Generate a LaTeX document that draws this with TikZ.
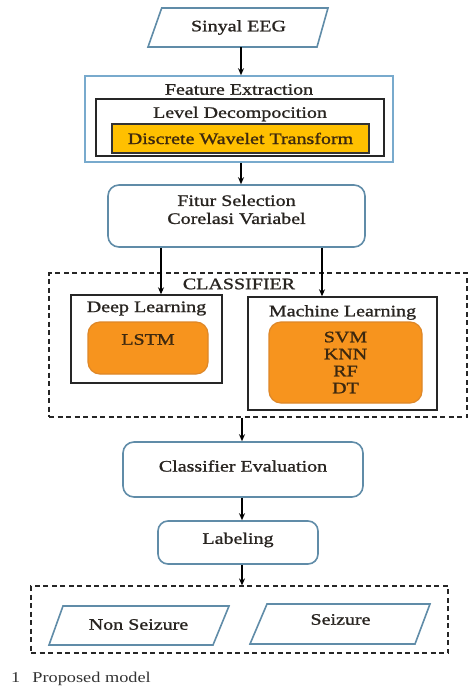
\documentclass[tikz,border=0pt]{standalone}
\usepackage{fontspec}
\setmainfont{Liberation Serif}[FakeStretch=1.25, FakeBold=1.2]
\newfontfamily\capfont{Liberation Serif}[FakeStretch=1.22]
\usetikzlibrary{arrows.meta}
\definecolor{bluebd}{RGB}{96,140,168}
\definecolor{bluebdl}{RGB}{120,170,205}
\definecolor{dwtfill}{RGB}{255,192,0}
\definecolor{orfill}{RGB}{247,148,30}
\definecolor{orbd}{RGB}{222,135,40}
\definecolor{txt}{RGB}{40,36,32}
\definecolor{brtxt}{RGB}{60,40,15}
\tikzset{
  every node/.style={font=\fontsize{16}{17}\selectfont, text=txt, inner sep=0pt},
  bluebox/.style={draw=bluebd, line width=1.6pt, fill=white},
  roundbox/.style={bluebox, rounded corners=11pt},
  blackbox/.style={draw=black!85, line width=1.4pt, fill=white},
  dashbox/.style={draw=black!85, line width=1.2pt, dashed, dash pattern=on 5pt off 3.5pt},
  orbox/.style={draw=orbd, line width=1.2pt, fill=orfill, rounded corners=12pt},
  arr/.style={draw=black, line width=1.2pt, -{Stealth[length=7pt,width=6pt]}},
}
\begin{document}
\begin{tikzpicture}[x=1pt,y=-1pt]
\useasboundingbox (0,0) rectangle (474,688);
% Sinyal EEG
\draw[bluebox] (161.7,8) -- (328,8) -- (317,47) -- (148,47) -- cycle;
\node (eeg) at (238.5,27.5) [minimum width=160pt, minimum height=39pt] {Sinyal EEG};
% Feature extraction
\node (fe) at (239,119) [draw=bluebdl, line width=1.6pt, minimum width=308pt, minimum height=86pt] {};
\node (fet) at (239,89.5) {Feature Extraction};
\node (ld) at (240,127.5) [blackbox, line width=1.2pt, minimum width=288pt, minimum height=57pt] {};
\node (ldt) at (240,114) {Level Decompocition};
\node (dwt) at (240.5,138.5) [draw=black!80, line width=1.2pt, fill=dwtfill, minimum width=257pt, minimum height=29pt, text=brtxt] {Discrete Wavelet Transform};
% Fitur selection
\node (fitur) at (236.5,216) [roundbox, minimum width=257pt, minimum height=62pt] {};
\node (fitt) at (236.5,209.5) [align=center, font=\fontsize{16}{18}\selectfont] {Fitur Selection\\Corelasi Variabel};
% Classifier
\node (cls) at (258,345) [dashbox, minimum width=418pt, minimum height=144pt] {};
\node (clst) at (239,284) {CLASSIFIER};
\node (dl) at (146.5,339) [blackbox, minimum width=151pt, minimum height=88pt] {};
\node (dlt) at (146.5,308.5) {Deep Learning};
\node (lstm) at (148,348) [orbox, minimum width=120pt, minimum height=52pt] {};
\node (lstmt) at (148,339.5) [text=brtxt] {LSTM};
\node (ml) at (342.5,353.5) [blackbox, minimum width=189pt, minimum height=113pt] {};
\node (mlt) at (342.5,312.5) {Machine Learning};
\node (mlo) at (345.5,362.5) [orbox, minimum width=153pt, minimum height=81pt, align=center, text=brtxt] {SVM\\KNN\\RF\\DT};
% Evaluation
\node (ce) at (243,469.5) [roundbox, minimum width=240pt, minimum height=55pt] {};
\node (cet) at (243,466) {Classifier Evaluation};
\node (lab) at (238,542.5) [roundbox, rounded corners=10pt, minimum width=160pt, minimum height=43pt] {};
\node (labt) at (238,540) {Labeling};
% Output
\node (out) at (239.5,619.5) [dashbox, minimum width=417pt, minimum height=67pt] {};
\draw[bluebox] (63,606) -- (229,606) -- (213,645) -- (49,645) -- cycle;
\node (ns) at (138.5,624.5) {Non Seizure};
\draw[bluebox] (267,604) -- (430,604) -- (415,644) -- (250,644) -- cycle;
\node (sz) at (340.5,619.5) {Seizure};
% caption
\node (cap) at (11,682.5) [anchor=base west, font=\capfont\fontsize{15}{17}\selectfont, text=black!80] {1\hspace{12pt}Proposed model};
% arrows
\coordinate (ax) at (241,0);
\coordinate (bx) at (242,0);
\coordinate (l1) at (161,0);
\coordinate (l2) at (322,0);
\draw[arr] (eeg.south -| ax) -- (fe.north -| ax);
\draw[arr] (fe.south -| ax) -- (fitur.north -| ax);
\draw[arr] (fitur.south -| l1) -- (dl.north -| l1);
\draw[arr] (fitur.south -| l2) -- (ml.north -| l2);
\draw[arr] (cls.south -| bx) -- (ce.north -| bx);
\draw[arr] (ce.south -| bx) -- (lab.north -| bx);
\draw[arr] (lab.south -| bx) -- (out.north -| bx);
\end{tikzpicture}
\end{document}
